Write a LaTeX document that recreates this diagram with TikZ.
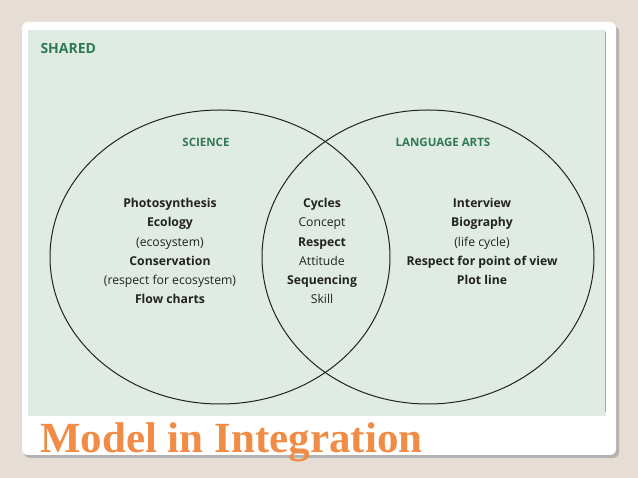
\documentclass[tikz,border=0pt]{standalone}
\usepackage{fontspec}
\setmainfont{Liberation Serif}
\newfontfamily\bodyf{Open Sans}
\definecolor{bg}{HTML}{E6DED5}
\definecolor{panel}{HTML}{E0EBE3}
\definecolor{grn}{HTML}{2F7A55}
\definecolor{ttl}{HTML}{F08C45}
\definecolor{ink}{HTML}{222222}
\begin{document}
\begin{tikzpicture}[x=1pt,y=-1pt,
  col/.style={align=center,font=\bodyf\fontsize{12.2}{19.1}\selectfont,text=ink,anchor=north},
  hd/.style={font=\bodyf\bfseries\fontsize{11.5}{13}\selectfont,text=grn}]
\useasboundingbox (0,0) rectangle (638,478);
\fill[bg] (0,0) rectangle (638,478);
\fill[gray!60,rounded corners=6] (24,26) rectangle (619,458);
\fill[white,rounded corners=6] (22,22) rectangle (616,455);
\fill[panel] (28,30) rectangle (606,416);
\draw[gray!70,line width=1pt] (605,32) -- (605,412);
\node[font=\bodyf\bfseries\fontsize{14}{16}\selectfont,text=grn,anchor=west] (sh) at (37,49) {SHARED};
\draw[ink,line width=1pt] (220,257) ellipse [x radius=170,y radius=147];
\draw[ink,line width=1pt] (428,257) ellipse [x radius=166,y radius=147];
\node[hd] (sci) at (206,142) {SCIENCE};
\node[hd] (la) at (443,142) {LANGUAGE ARTS};
\node[col] (l) at (170,195) {\textbf{Photosynthesis}\\\textbf{Ecology}\\(ecosystem)\\\textbf{Conservation}\\(respect for ecosystem)\\\textbf{Flow charts}};
\node[col] (m) at (322,195) {\textbf{Cycles}\\Concept\\\textbf{Respect}\\Attitude\\\textbf{Sequencing}\\Skill};
\node[col] (r) at (482,195) {\textbf{Interview}\\\textbf{Biography}\\(life cycle)\\\textbf{Respect for point of view}\\\textbf{Plot line}};
\node[anchor=base west,font=\bfseries\fontsize{43}{43}\selectfont,text=ttl,inner sep=0pt] (t) at (40,453) {Model in Integration};
\end{tikzpicture}
\end{document}
